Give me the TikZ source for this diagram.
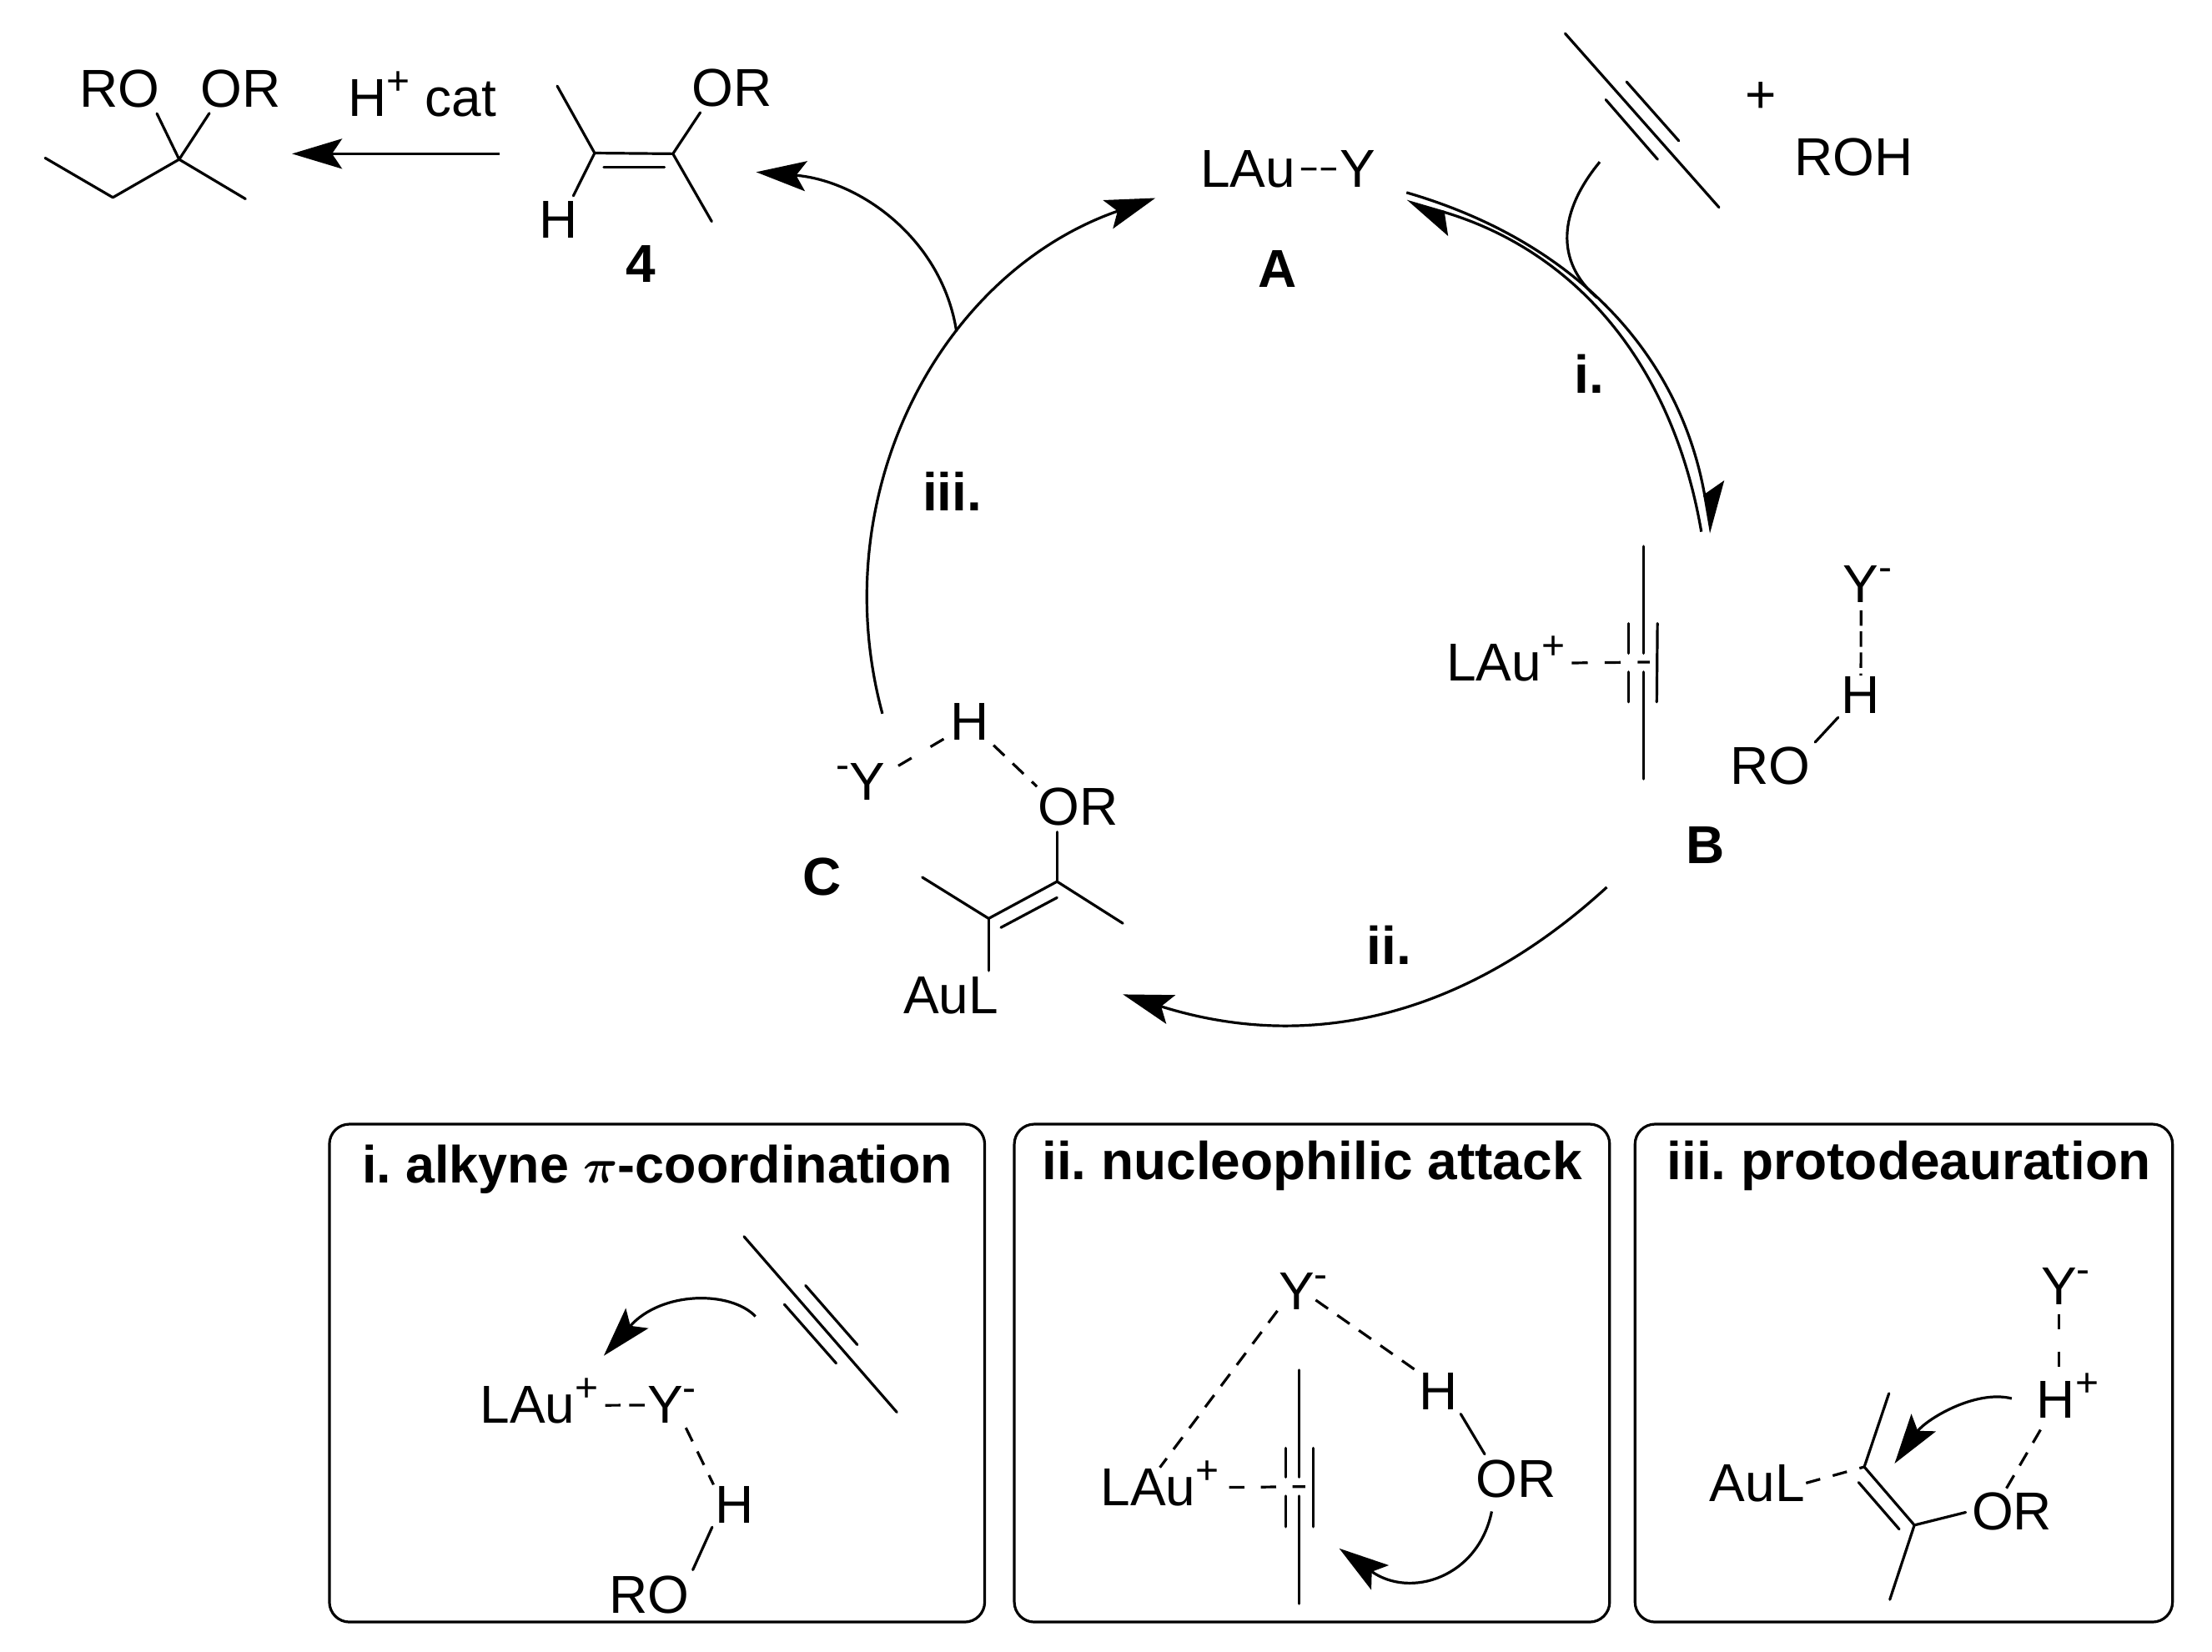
\documentclass[tikz,border=0pt]{standalone}
\usepackage{fontspec}
\setmainfont{Liberation Sans}
\usepackage{amsmath}
\usetikzlibrary{arrows.meta}
\newcommand{\chg}[1]{\smash{\raisebox{6.5pt}{\fontsize{12}{12}\selectfont #1}}}
\newcommand{\chgr}[1]{\rlap{\chg{#1}}}
\newcommand{\chgl}[1]{\llap{\chg{#1}}}
\tikzset{
  atom/.style={font=\fontsize{16}{19}\selectfont, inner sep=0pt, anchor=base west},
  steplabel/.style={font=\fontsize{16}{19}\selectfont\bfseries, inner sep=0pt, anchor=base west},
  paneltitle/.style={font=\fontsize{16}{19}\selectfont\bfseries\frenchspacing, inner sep=0pt, anchor=base},
  bond/.style={line cap=round, shorten >=1.5pt},
  hbond/.style={dash pattern=on 4.5pt off 3.4pt},
  twodash/.style={dash pattern=on 4.6pt off 6.6pt},
  panel/.style={rounded corners=6pt},
  bigarrow/.style={-{Stealth[length=15pt, width=9pt, inset=3pt]}},
  halfarrow/.style={-{Stealth[left, length=14pt, width=13pt, inset=3pt]}}
}
\begin{document}
\begin{tikzpicture}[x=.4228pt, y=-.4228pt, >=Stealth, line width=.8pt]
  \useasboundingbox (0,0) rectangle (1568,1171);

  \node[atom] (ketalRO) at (55.5,76) {RO};
  \node[atom] (ketalOR) at (141.5,76) {OR};
  \coordinate (ketal1) at (32,112);
  \coordinate (ketal2) at (80,140);
  \coordinate (ketal3) at (127,113);
  \coordinate (ketal4) at (174,141);
  \draw[line cap=round, line join=round] (ketal1) -- (ketal2) -- (ketal3) -- (ketal4);
  \draw[bond] (ketal3) -- (ketalRO.-30);
  \draw[bond] (ketal3) -- (ketalOR.-145);

  \node[atom] (hcat) at (246,82.5) {H\chg{+} cat};
  \coordinate (hcatS) at (354,109);
  \coordinate (hcatE) at (207,109);
  \draw[bigarrow] (hcatS) -- (hcatE);

  \node[atom] (enolOR) at (489.5,75.5) {OR};
  \node[atom] (enolH) at (381.5,169) {H};
  \node[steplabel] (four) at (443,200) {4};
  \coordinate (enol1) at (395,61);
  \coordinate (enol2) at (421.5,108.5);
  \coordinate (enol3) at (477,109);
  \coordinate (enol4) at (504.5,157);
  \coordinate (enol5) at (428,118.7);
  \coordinate (enol6) at (471,118.7);
  \draw[line cap=round, line join=round] (enol1) -- (enol2) -- (enol3) -- (enol4);
  \draw[line cap=round] (enol5) -- (enol6);
  \draw[bond] (enol2) -- (enolH.58);
  \draw[bond] (enol3) -- (enolOR.-145);

  \node[atom] (lauA) at (850,132.8) {LAu};
  \node[atom] (yA) at (949,132.8) {Y};
  \node[steplabel] (labelA) at (891,203.8) {A};
  \draw[dash pattern=on 4.6pt off 1.3pt, shorten <=1.3pt] (lauA) -- (yA);

  \coordinate (alkyne1) at (1109.5,23.8);
  \coordinate (alkyne2) at (1218.5,147);
  \coordinate (alkyne3) at (1153,58);
  \coordinate (alkyne4) at (1190,99.8);
  \coordinate (alkyne5) at (1138.3,70.7);
  \coordinate (alkyne6) at (1175,113);
  \draw[line cap=round] (alkyne1) -- (alkyne2);
  \draw[line cap=round] (alkyne3) -- (alkyne4);
  \draw[line cap=round] (alkyne5) -- (alkyne6);
  \node[atom, anchor=center] (plus) at (1248.5,69) {+};
  \node[atom] (roh) at (1271,124.6) {ROH};

  \coordinate (joinS) at (1134,114.8);
  \coordinate (joinE) at (1132,211);
  \draw (joinS) .. controls (1105,150) and (1102,185) .. (joinE);

  \coordinate (stepiS) at (997,136.5);
  \coordinate (stepiE) at (1213,378);
  \coordinate (backS) at (1206,377);
  \coordinate (backE) at (997,142.6);
  \draw[halfarrow] (stepiS) to[bend left=32] (stepiE);
  \draw[halfarrow] (backS) to[bend right=32] (backE);
  \node[steplabel] (labeli) at (1115,278.5) {i.};

  \node[atom] (lauB) at (1024.5,482.9) {LAu\chg{+}};
  \coordinate (alkB1) at (1165.2,387.3);
  \coordinate (alkB2) at (1165.2,463.2);
  \coordinate (alkB3) at (1165.2,476.4);
  \coordinate (alkB4) at (1165.2,552.3);
  \coordinate (alkB5) at (1154.6,442);
  \coordinate (alkB6) at (1154.6,463.2);
  \coordinate (alkB7) at (1154.6,476.4);
  \coordinate (alkB8) at (1154.6,497.7);
  \coordinate (alkB9) at (1174.9,442);
  \coordinate (alkB10) at (1174.4,497.7);
  \coordinate (alkB11) at (1169.4,469.4);
  \draw[line cap=round] (alkB1) -- (alkB2);
  \draw[line cap=round] (alkB3) -- (alkB4);
  \draw[line cap=round] (alkB5) -- (alkB6);
  \draw[line cap=round] (alkB7) -- (alkB8);
  \draw[line cap=round] (alkB9) -- (alkB10);
  \draw[dash pattern=on 4.8pt off 5.07pt, shorten <=1.6pt] (lauB.east) -- (alkB11);
  \node[atom] (yB) at (1305.6,427.1) {Y\chgr{-}};
  \node[atom] (hB) at (1304.5,506) {H};
  \node[atom] (roB) at (1225.6,556.2) {RO};
  \node[steplabel] (labelB) at (1194.5,612) {B};
  \draw[dash pattern=on 4.6pt off 1.7pt, shorten <=2pt] (yB.south) -- (hB.north);
  \draw[bond, shorten <=1pt] (hB.south west) -- (roB.north east);

  \coordinate (stepiiS) at (1139,629);
  \coordinate (stepiiE) at (796,705);
  \draw[bigarrow] (stepiiS) to[bend left=30] (stepiiE);
  \node[steplabel] (labelii) at (968,683.6) {ii.};

  \node[atom] (yC) at (601.5,567.4) {\chgl{-}Y};
  \node[atom] (hC) at (672.5,525) {H};
  \node[atom] (orC) at (735,585) {OR};
  \node[atom] (aulC) at (639.5,718.7) {AuL};
  \node[steplabel] (labelC) at (568,634.9) {C};
  \coordinate (vinC1) at (653.8,622);
  \coordinate (vinC2) at (700.8,651.2);
  \coordinate (vinC3) at (749.3,625);
  \coordinate (vinC4) at (795.9,654.6);
  \coordinate (vinC5) at (709.5,657.6);
  \coordinate (vinC6) at (749.3,636.4);
  \draw[line cap=round, line join=round] (vinC1) -- (vinC2) -- (vinC3) -- (vinC4);
  \draw[line cap=round] (vinC5) -- (vinC6);
  \draw[bond] (vinC2) -- (aulC.north east -| vinC2);
  \draw[bond] (vinC3) -- (orC.south -| vinC3);
  \draw[twodash, shorten <=4pt, shorten >=1.5pt] (yC.26) -- (hC.214);
  \draw[hbond, shorten <=1.5pt] (hC.south east) -- (orC.north west);

  \coordinate (stepiiiS) at (625.5,506);
  \coordinate (stepiiiE) at (819,140.4);
  \coordinate (branchS) at (678,235);
  \coordinate (branchE) at (536,122);
  \draw[bigarrow] (stepiiiS) to[bend left=43] (stepiiiE);
  \draw[bigarrow] (branchS) .. controls (668,170) and (610,128) .. (branchE);
  \node[steplabel] (labeliii) at (653,362) {iii.};

  \draw[panel] (233.5,797) rectangle (698,1150);
  \node[paneltitle, font=\fontsize{15.7}{19}\selectfont\bfseries\frenchspacing] (titlei) at (466,838.5) {i. alkyne {\boldmath$\pi$}-coordination};
  \coordinate (alk1a) at (527.4,876.7);
  \coordinate (alk1b) at (635.7,1001.2);
  \coordinate (alk1c) at (571,911.4);
  \coordinate (alk1d) at (607.7,953.4);
  \coordinate (alk1e) at (556,924.8);
  \coordinate (alk1f) at (592.7,966.5);
  \draw[line cap=round] (alk1a) -- (alk1b);
  \draw[line cap=round] (alk1c) -- (alk1d);
  \draw[line cap=round] (alk1e) -- (alk1f);
  \node[atom] (lau1) at (339.4,1009.2) {LAu\chg{+}};
  \node[atom] (y1) at (458,1009.2) {Y\chgr{-}};
  \node[atom] (h1) at (505.8,1079.6) {H};
  \node[atom] (ro1) at (431,1143.6) {RO};
  \draw[dash pattern=on 4.6pt off 2.6pt, shorten <=1.6pt] (lau1.east) -- (y1.west);
  \draw[hbond, shorten <=1pt] (y1.south east) -- (h1.north west);
  \draw[bond, shorten <=1pt] (h1.south west) -- (ro1.north east);
  \coordinate (arrow1S) at (535.5,933.3);
  \coordinate (arrow1E) at (428,961.2);
  \draw[bigarrow] (arrow1S) .. controls (518,915) and (469,915) .. (arrow1E);

  \draw[panel] (719,797) rectangle (1141,1150);
  \node[paneltitle] (titleii) at (930,836.2) {ii. nucleophilic attack};
  \node[atom] (y2) at (905.5,928.4) {Y\chgr{-}};
  \node[atom] (h2) at (1005,999.5) {H};
  \node[atom] (or2) at (1045.4,1061.4) {OR};
  \node[atom] (lau2) at (779.3,1067.4) {LAu\chg{+}};
  \coordinate (alk2a) at (921,971.4);
  \coordinate (alk2b) at (921,1047.3);
  \coordinate (alk2c) at (921,1060.6);
  \coordinate (alk2d) at (921,1137);
  \coordinate (alk2e) at (911.3,1026.7);
  \coordinate (alk2f) at (911.3,1047.3);
  \coordinate (alk2g) at (911.3,1060.6);
  \coordinate (alk2h) at (911.3,1082.5);
  \coordinate (alk2i) at (930.8,1026.7);
  \coordinate (alk2j) at (930.8,1082.5);
  \coordinate (alk2k) at (925.2,1054);
  \draw[line cap=round] (alk2a) -- (alk2b);
  \draw[line cap=round] (alk2c) -- (alk2d);
  \draw[line cap=round] (alk2e) -- (alk2f);
  \draw[line cap=round] (alk2g) -- (alk2h);
  \draw[line cap=round] (alk2i) -- (alk2j);
  \draw[dash pattern=on 4.6pt off 4.9pt, shorten <=2.6pt] (lau2.east) -- (alk2k);
  \draw[hbond] (y2.south west) -- (lau2.north);
  \draw[hbond] (y2.-25) -- (h2.north west);
  \draw[bond, shorten <=1pt] (h2.south east) -- (or2.145);
  \coordinate (arrow2S) at (1057.4,1071.6);
  \coordinate (arrow2E) at (949.3,1097.8);
  \draw[bigarrow] (arrow2S) .. controls (1048,1118) and (1000,1134) .. (arrow2E);

  \draw[panel] (1159,797) rectangle (1540,1150);
  \node[paneltitle] (titleiii) at (1353,836.2) {iii. protodeauration};
  \node[atom] (y3) at (1446,924.8) {Y\chgr{-}};
  \node[atom] (h3) at (1442.8,1005.6) {H\chgr{+}};
  \node[atom] (or3) at (1396.8,1084.4) {OR};
  \node[atom] (aul3) at (1211,1064.3) {AuL};
  \coordinate (vin3a) at (1339,987.9);
  \coordinate (vin3b) at (1321.5,1040);
  \coordinate (vin3c) at (1357,1081.3);
  \coordinate (vin3d) at (1339.6,1134.1);
  \coordinate (vin3e) at (1317.5,1051);
  \coordinate (vin3f) at (1346.3,1084.2);
  \draw[line cap=round, line join=round] (vin3a) -- (vin3b) -- (vin3c) -- (vin3d);
  \draw[line cap=round] (vin3e) -- (vin3f);
  \draw[bond] (vin3c) -- (or3.west);
  \draw[dash pattern=on 4.4pt off 3.9pt] (aul3.east) -- (vin3b);
  \draw[twodash, shorten <=2.5pt, shorten >=4pt] (y3.south) -- (y3.south |- h3.north);
  \draw[hbond, shorten <=3.5pt] (h3.-116) -- (or3.109);
  \coordinate (arrow3S) at (1426,991.5);
  \coordinate (arrow3E) at (1343,1037.6);
  \draw[bigarrow] (arrow3S) .. controls (1400,985) and (1365,1006.6) .. (arrow3E);
\end{tikzpicture}
\end{document}
